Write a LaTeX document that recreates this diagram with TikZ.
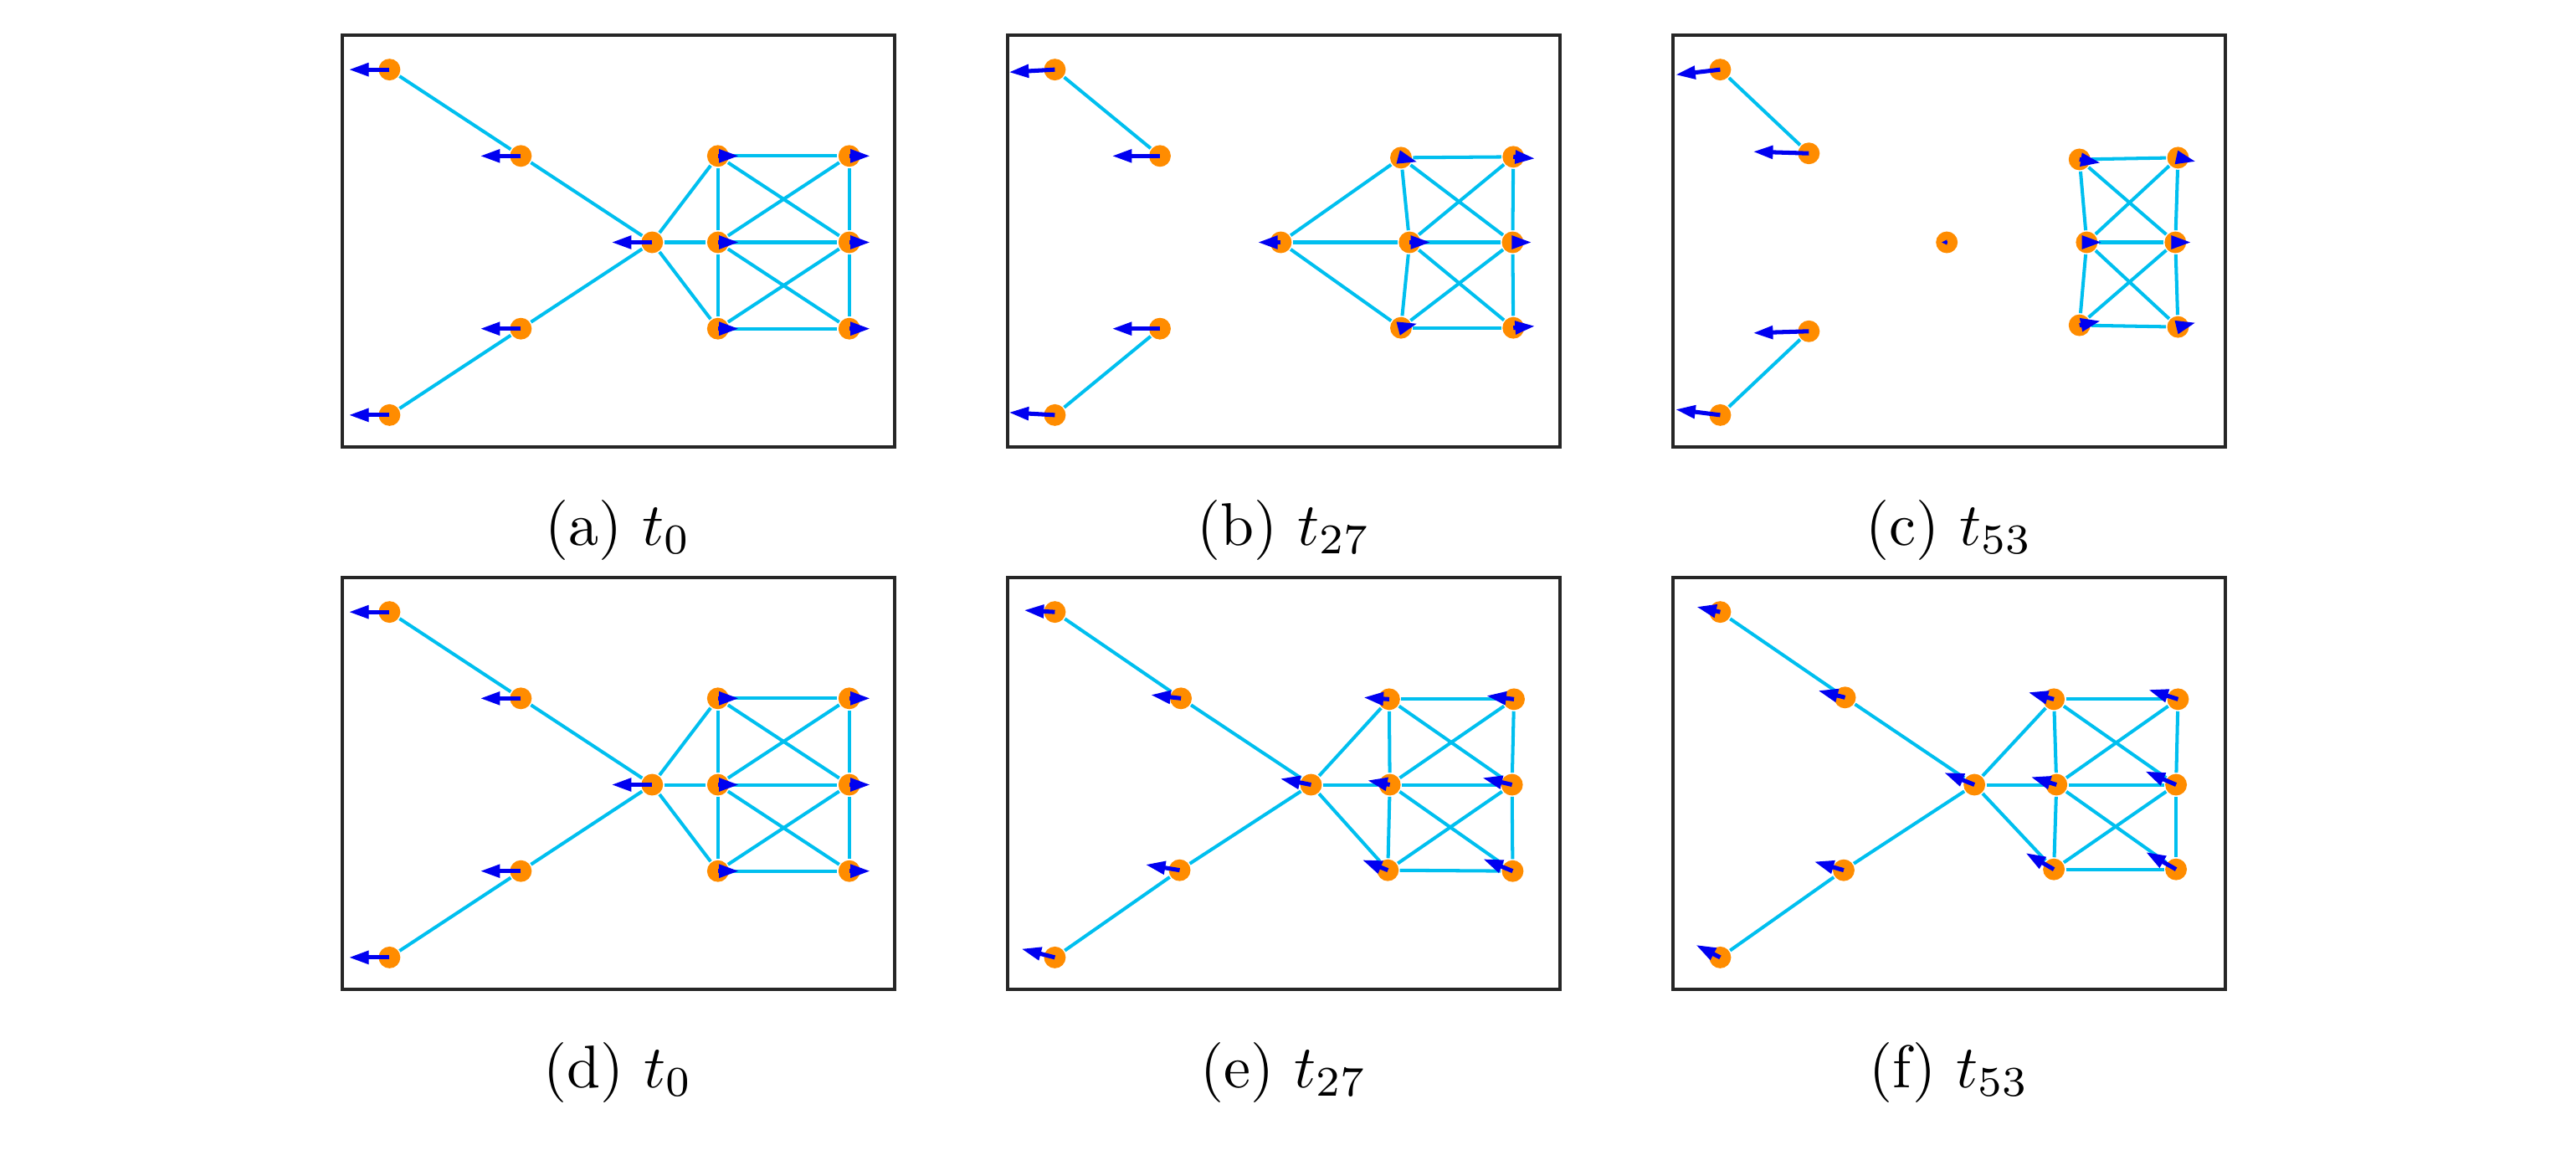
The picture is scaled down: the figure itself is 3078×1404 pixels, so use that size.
\documentclass[tikz,border=0pt]{standalone}
\usepackage{amsmath}
\usetikzlibrary{arrows.meta}
\definecolor{SwarmFrame}{HTML}{262626}
\definecolor{SwarmAgent}{HTML}{FF8C00}
\definecolor{SwarmLink}{HTML}{00BFEF}
\definecolor{SwarmVelocity}{HTML}{0000F0}
% links of the six-agent block, then with the middle agent, then all of them
\newcommand{\blocklinks}{1/2,3/4,6/9,7/10,8/11,6/7,7/8,9/10,10/11,6/10,7/9,7/11,8/10}
\newcommand{\hublinks}{1/2,3/4,6/9,7/10,8/11,6/7,7/8,9/10,10/11,6/10,7/9,7/11,8/10,5/6,5/7,5/8}
\newcommand{\fulllinks}{1/2,3/4,6/9,7/10,8/11,6/7,7/8,9/10,10/11,6/10,7/9,7/11,8/10,5/6,5/7,5/8,2/5,5/3}

\begin{document}
\begin{tikzpicture}[x=0.13889pt,y=0.13889pt,
    agent/.style={circle,fill=SwarmAgent,inner sep=0pt,minimum size=3.6pt},
    link/.style={draw=SwarmLink,line width=0.56pt},
    vel/.style={draw=SwarmVelocity,line width=0.7pt,-{Triangle[length=3.3pt,width=2.1pt]}},
    panel/.style={draw=SwarmFrame,line width=0.56pt},
    caption/.style={anchor=base,inner sep=0pt}]
  \useasboundingbox (0,0) rectangle (3078,1404);

  % (a) t_0
  \begin{scope}[shift={(465.4,1114.5)},x=10.9pt,y=14.33pt]
    \foreach \n/\px/\py in {1/0/2,2/2/1,3/2/-1,4/0/-2,5/4/0,6/5/1,7/5/0,8/5/-1,9/7/1,10/7/0,11/7/-1} {
      \node[agent] (a\n) at (\px,\py) {};
    }
    \foreach \i/\j in \fulllinks {
      \draw[link] (a\i) -- (a\j);
    }
    \foreach \n/\u/\v in {1/-0.62/0,2/-0.62/0,3/-0.62/0,4/-0.62/0,5/-0.62/0,6/0.32/0,7/0.32/0,8/0.32/0,9/0.32/0,10/0.32/0,11/0.32/0} {
      \draw[vel] (a\n.center) -- ++(\u,\v);
    }
  \end{scope}
  \draw[panel] (409,1362) rectangle (1069,870);
  \node[caption] (capa) at (739,753) {(a) $t_0$};

  % (b) t_27
  \begin{scope}[shift={(1260.4,1114.5)},x=10.9pt,y=14.33pt]
    \foreach \n/\px/\py in {1/0/2,2/1.6/1,3/1.6/-1,4/0/-2,5/3.44/0,6/5.27/0.98,7/5.4/0,8/5.27/-0.99,9/6.98/0.99,10/6.97/0,11/6.98/-0.99} {
      \node[agent] (b\n) at (\px,\py) {};
    }
    \foreach \i/\j in \hublinks {
      \draw[link] (b\i) -- (b\j);
    }
    \foreach \n/\u/\v in {1/-0.7/-0.03,2/-0.73/0,3/-0.73/0,4/-0.7/0.03,5/-0.35/0,6/0.25/-0.05,7/0.32/0,8/0.25/0.05,9/0.33/-0.02,10/0.29/0,11/0.33/0.02} {
      \draw[vel] (b\n.center) -- ++(\u,\v);
    }
  \end{scope}
  \draw[panel] (1204,1362) rectangle (1864,870);
  \node[caption] (capb) at (1534,753) {(b) $t_{27}$};

  % (c) t_53
  \begin{scope}[shift={(2055.4,1114.5)},x=10.9pt,y=14.33pt]
    \foreach \n/\px/\py in {1/0/2,2/1.35/1.03,3/1.35/-1.03,4/0/-2,5/3.45/0,6/5.47/0.96,7/5.58/0,8/5.47/-0.96,9/6.97/0.98,10/6.93/0,11/6.97/-0.98} {
      \node[agent] (c\n) at (\px,\py) {};
    }
    \foreach \i/\j in \blocklinks {
      \draw[link] (c\i) -- (c\j);
    }
    \foreach \n/\u/\v in {1/-0.68/-0.06,2/-0.85/0.02,3/-0.85/-0.02,4/-0.68/0.065,6/0.32/-0.04,7/0.23/0,8/0.32/0.05,9/0.27/-0.045,10/0.24/0,11/0.27/0.05} {
      \draw[vel] (c\n.center) -- ++(\u,\v);
    }
    \draw[vel,line width=0.3pt,-{Triangle[length=0.9pt,width=0.8pt]}] (c5.center) -- ++(-0.08,0);
  \end{scope}
  \draw[panel] (1999,1362) rectangle (2659,870);
  \node[caption] (capc) at (2329,753) {(c) $t_{53}$};

  % (d) t_0
  \begin{scope}[shift={(465.4,466.5)},x=10.9pt,y=14.33pt]
    \foreach \n/\px/\py in {1/0/2,2/2/1,3/2/-1,4/0/-2,5/4/0,6/5/1,7/5/0,8/5/-1,9/7/1,10/7/0,11/7/-1} {
      \node[agent] (d\n) at (\px,\py) {};
    }
    \foreach \i/\j in \fulllinks {
      \draw[link] (d\i) -- (d\j);
    }
    \foreach \n/\u/\v in {1/-0.62/0,2/-0.62/0,3/-0.62/0,4/-0.62/0,5/-0.62/0,6/0.32/0,7/0.32/0,8/0.32/0,9/0.32/0,10/0.32/0,11/0.32/0} {
      \draw[vel] (d\n.center) -- ++(\u,\v);
    }
  \end{scope}
  \draw[panel] (409,714) rectangle (1069,222);
  \node[caption] (capd) at (739,105) {(d) $t_0$};

  % (e) t_27
  \begin{scope}[shift={(1260.4,466.5)},x=10.9pt,y=14.33pt]
    \foreach \n/\px/\py in {1/0/2,2/1.92/1,3/1.9/-0.99,4/0/-2,5/3.9/0,6/5.09/0.99,7/5.1/0,8/5.07/-0.99,9/6.99/0.99,10/6.96/0,11/6.97/-1} {
      \node[agent] (e\n) at (\px,\py) {};
    }
    \foreach \i/\j in \fulllinks {
      \draw[link] (e\i) -- (e\j);
    }
    \foreach \n/\u/\v in {1/-0.47/0.02,2/-0.46/0.04,3/-0.52/0.065,4/-0.51/0.1,5/-0.47/0.07,6/-0.39/0.02,7/-0.34/0.05,8/-0.39/0.12,9/-0.42/0.04,10/-0.45/0.08,11/-0.45/0.14} {
      \draw[vel] (e\n.center) -- ++(\u,\v);
    }
  \end{scope}
  \draw[panel] (1204,714) rectangle (1864,222);
  \node[caption] (cape) at (1534,105) {(e) $t_{27}$};

  % (f) t_53
  \begin{scope}[shift={(2055.4,466.5)},x=10.9pt,y=14.33pt]
    \foreach \n/\px/\py in {1/0/2,2/1.9/1.01,3/1.88/-0.99,4/0/-2,5/3.87/0,6/5.08/0.99,7/5.12/0,8/5.08/-0.98,9/6.97/0.99,10/6.94/0,11/6.94/-0.98} {
      \node[agent] (f\n) at (\px,\py) {};
    }
    \foreach \i/\j in \fulllinks {
      \draw[link] (f\i) -- (f\j);
    }
    \foreach \n/\u/\v in {1/-0.36/0.06,2/-0.41/0.08,3/-0.45/0.1,4/-0.37/0.145,5/-0.46/0.14,6/-0.39/0.08,7/-0.39/0.09,8/-0.43/0.19,9/-0.45/0.11,10/-0.47/0.155,11/-0.46/0.2} {
      \draw[vel] (f\n.center) -- ++(\u,\v);
    }
  \end{scope}
  \draw[panel] (1999,714) rectangle (2659,222);
  \node[caption] (capf) at (2329,105) {(f) $t_{53}$};
\end{tikzpicture}
\end{document}
